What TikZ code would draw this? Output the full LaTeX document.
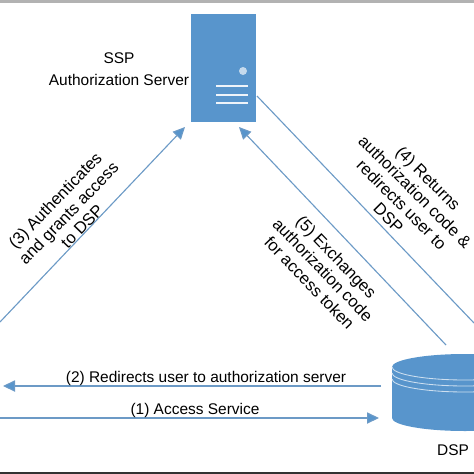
\documentclass[tikz,border=0pt]{standalone}
\usepackage{fontspec}
\setmainfont{Liberation Sans}
\usetikzlibrary{arrows.meta}
\definecolor{boxblue}{HTML}{5895CC}
\definecolor{linkblue}{HTML}{6C9AC6}

\begin{document}
\begin{tikzpicture}[
  x=0.025cm, y=-0.025cm,
  server/.style={
    fill=boxblue, minimum width=1.625cm, minimum height=2.7cm, inner sep=0pt
  },
  link/.style={
    draw=linkblue, line width=0.8pt,
    -{Triangle[length=3mm, width=2.8mm, fill=boxblue]}
  },
  plainlink/.style={draw=linkblue, line width=0.8pt},
  ledge/.style={draw=white!70!boxblue, line width=0.6pt},
  vent/.style={draw=white!90!boxblue, line width=1.2pt},
  label/.style={font=\fontsize{11}{13}\selectfont, inner sep=0pt, align=center},
  slant/.style={font=\fontsize{11.8}{13.3}\selectfont, inner sep=0pt, align=center}
]

% page
\useasboundingbox (0,474) rectangle (474,0);
\clip (0,474) rectangle (474,0);
\fill[black!30] (0,0) rectangle (474,2.5);
\fill[black!80] (0,471.5) rectangle (474,474);

% server
\node[server] (ssp) at (223.5,68) {};
\fill[white!65!boxblue] (243,71) circle (4);
\draw[vent] (216,86) -- (248,86);
\draw[vent] (216,95) -- (248,95);
\draw[vent] (216,103) -- (248,103);
\node[label] (ssplabel) at (119,69) {SSP\\[2.5pt]Authorization Server};

% data store
\fill[boxblue] (392,367) rectangle (538,418);
\fill[boxblue] (465,367) ellipse (73 and 13);
\fill[boxblue] (465,418) ellipse (73 and 13);
\foreach \y in {367,373,379}
  \draw[ledge] (392,\y) arc[start angle=180, end angle=0, x radius=73, y radius=13];
\node[label] (dsplabel) at (453,450) {DSP};

% free ends
\coordinate (leftup) at (0,322);
\coordinate (tipthree) at (185,127);
\coordinate (tipfive) at (239,127);
\coordinate (tailfive) at (446,345);
\coordinate (tailfour) at (257,96);
\coordinate (endfour) at (474,323);
\coordinate (tailtwo) at (381,386);
\coordinate (tiptwo) at (3,386);
\coordinate (tailone) at (0,418);
\coordinate (tipone) at (379,418);

% connectors
\draw[link] (leftup) -- (tipthree);
\draw[link] (tailfive) -- (tipfive);
\draw[plainlink] (tailfour) -- (endfour);
\draw[link] (tailtwo) -- (tiptwo);
\draw[link] (tailone) -- (tipone);

% connector labels
\node[slant] (three) at (68.5,213) [rotate=46] {(3) Authenticates\\and grants access\\to DSP};
\node[slant] (five) at (323,270) [rotate=-46] {(5) Exchanges\\authorization code\\for access token};
\node[slant] (four) at (408.5,198) [rotate=-45] {(4) Returns\\authorization code \&\\redirects user to\\DSP};
\node[label] (two) at (206,378) {(2) Redirects user to authorization server};
\node[label] (one) at (195,410) {(1) Access Service};

\end{tikzpicture}
\end{document}
